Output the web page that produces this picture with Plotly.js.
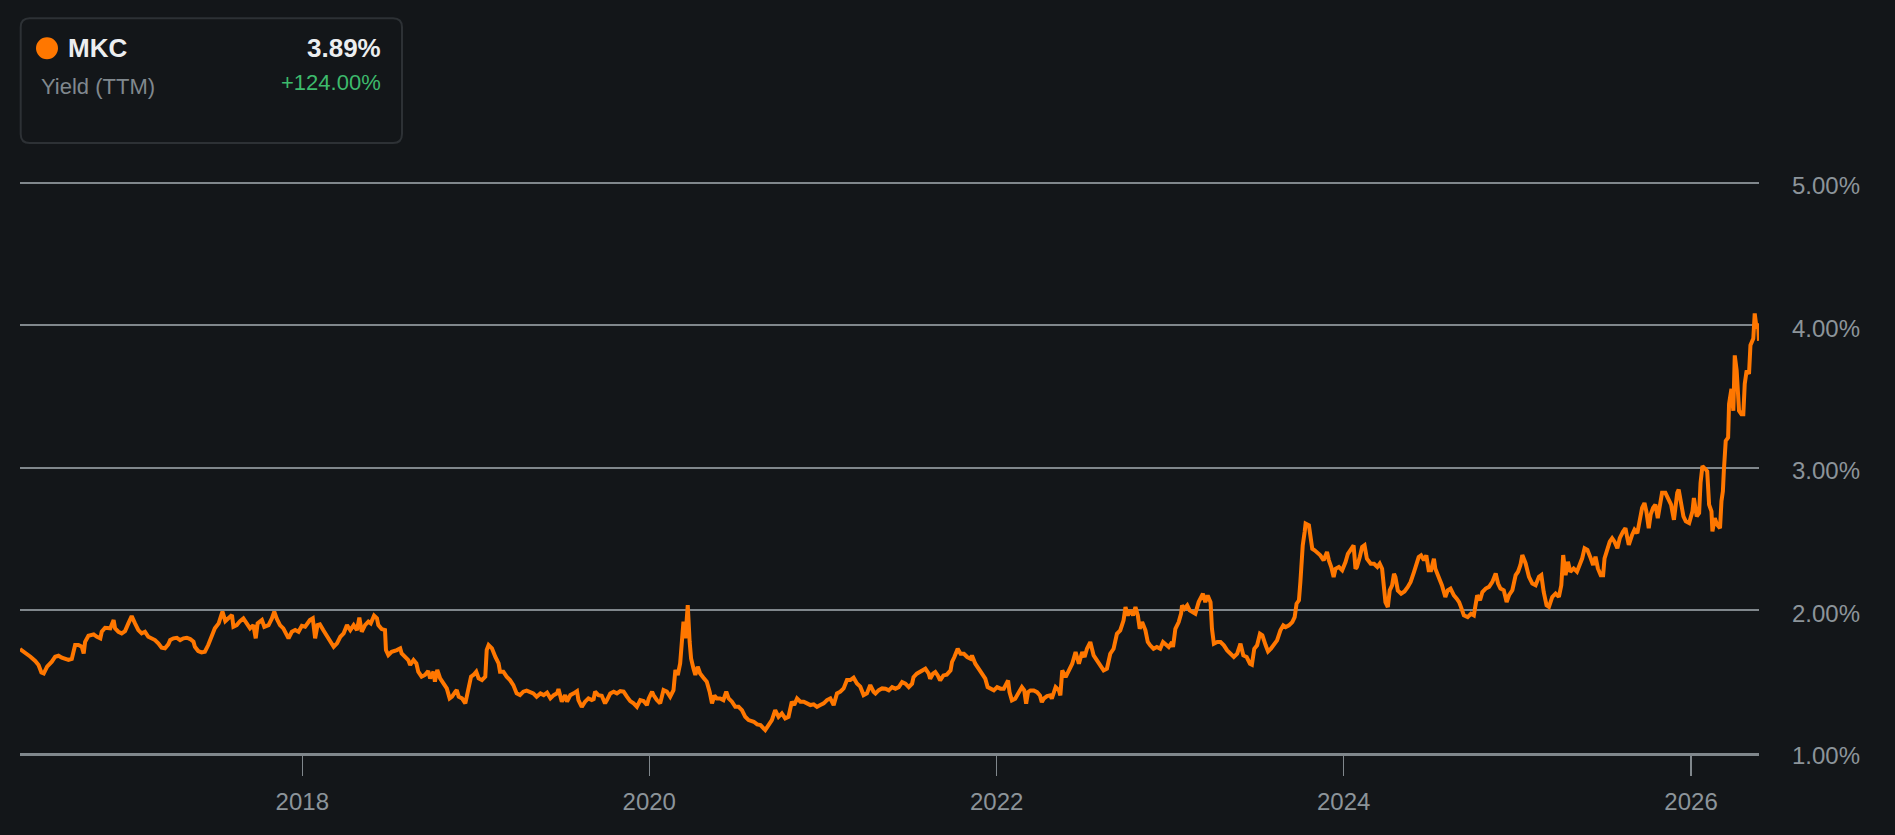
<!DOCTYPE html>
<html><head><meta charset="utf-8">
<script src="https://cdn.plot.ly/plotly-3.0.1.min.js"></script>
<style>html,body{margin:0;padding:0;background:#131619;}#chart{width:1895px;height:835px;}</style>
</head><body><div id="chart"></div>
<script>
const dates = [
'2016-05-17','2016-05-28','2016-06-08','2016-06-18','2016-06-25','2016-07-01','2016-07-06','2016-07-13','2016-07-23','2016-07-30',
'2016-08-06','2016-08-13','2016-08-20','2016-08-27','2016-09-03','2016-09-07','2016-09-10','2016-09-17','2016-09-24','2016-09-28',
'2016-10-01','2016-10-08','2016-10-19','2016-10-26','2016-11-02','2016-11-05','2016-11-12','2016-11-23','2016-11-30','2016-12-03',
'2016-12-10','2016-12-17','2016-12-24','2016-12-31',
'2017-01-07','2017-01-14','2017-01-21','2017-01-28','2017-02-04','2017-02-11','2017-02-18','2017-02-25','2017-03-04','2017-03-11',
'2017-03-18','2017-03-25','2017-03-29','2017-04-05','2017-04-12','2017-04-19','2017-04-26','2017-05-03','2017-05-10','2017-05-17',
'2017-05-20','2017-05-27','2017-06-03','2017-06-10','2017-06-17','2017-06-24','2017-07-01','2017-07-09','2017-07-16','2017-07-17',
'2017-07-23','2017-07-30','2017-08-06','2017-08-09','2017-08-16','2017-08-23','2017-08-30','2017-09-06','2017-09-13','2017-09-20',
'2017-09-25','2017-09-29','2017-10-08','2017-10-13','2017-10-22','2017-10-29','2017-11-03','2017-11-08','2017-11-15','2017-11-22',
'2017-11-29','2017-12-03','2017-12-10','2017-12-17','2017-12-24','2017-12-31',
'2018-01-07','2018-01-14','2018-01-17','2018-01-23','2018-01-28','2018-02-02','2018-02-07','2018-02-14','2018-02-21','2018-03-01',
'2018-03-08','2018-03-15','2018-03-22','2018-03-29','2018-04-05','2018-04-12','2018-04-19','2018-04-26','2018-05-01','2018-05-06',
'2018-05-13','2018-05-20','2018-05-25','2018-06-01','2018-06-07','2018-06-10','2018-06-17','2018-06-24','2018-06-26','2018-07-01',
'2018-07-08','2018-07-19','2018-07-26','2018-07-29','2018-08-05','2018-08-12','2018-08-16','2018-08-23','2018-08-29','2018-09-02',
'2018-09-09','2018-09-16','2018-09-23','2018-09-27','2018-10-04','2018-10-07','2018-10-12','2018-10-18','2018-10-25','2018-11-01',
'2018-11-07','2018-11-12','2018-11-19','2018-11-22','2018-11-26','2018-12-03','2018-12-10','2018-12-17','2018-12-22','2018-12-27',
'2019-01-02','2019-01-07','2019-01-14','2019-01-21','2019-01-24','2019-01-28','2019-02-04','2019-02-11','2019-02-18','2019-02-21',
'2019-02-28','2019-03-07','2019-03-14','2019-03-21','2019-03-28','2019-04-04','2019-04-11','2019-04-18','2019-04-25','2019-05-02',
'2019-05-09','2019-05-17','2019-05-24','2019-05-31','2019-06-07','2019-06-14','2019-06-21','2019-06-24','2019-07-01','2019-07-08',
'2019-07-12','2019-07-19','2019-07-26','2019-08-02','2019-08-05','2019-08-12','2019-08-19','2019-08-26','2019-09-02','2019-09-06',
'2019-09-09','2019-09-16','2019-09-23','2019-09-30','2019-10-04','2019-10-11','2019-10-18','2019-10-25','2019-11-01','2019-11-08',
'2019-11-15','2019-11-22','2019-11-29','2019-12-06','2019-12-13','2019-12-20','2019-12-27','2019-12-31',
'2020-01-07','2020-01-10','2020-01-17','2020-01-24','2020-01-31','2020-02-07','2020-02-14','2020-02-21','2020-02-25','2020-03-01',
'2020-03-06','2020-03-10','2020-03-13','2020-03-17','2020-03-19','2020-03-22','2020-03-26','2020-03-29','2020-04-03','2020-04-07',
'2020-04-12','2020-04-17','2020-04-24','2020-05-01','2020-05-07','2020-05-12','2020-05-17','2020-05-22','2020-05-29','2020-06-05',
'2020-06-11','2020-06-16','2020-06-23','2020-06-30','2020-07-07','2020-07-14','2020-07-21','2020-07-28','2020-08-08','2020-08-15',
'2020-08-22','2020-08-29','2020-09-01','2020-09-08','2020-09-15','2020-09-22','2020-09-29','2020-10-06','2020-10-13','2020-10-20',
'2020-10-27','2020-11-01','2020-11-07','2020-11-14','2020-11-21','2020-11-28','2020-12-05','2020-12-12','2020-12-19','2020-12-26',
'2021-01-02','2021-01-09','2021-01-16','2021-01-23','2021-01-30','2021-02-06','2021-02-13','2021-02-20','2021-02-27','2021-03-06',
'2021-03-13','2021-03-20','2021-03-27','2021-04-03','2021-04-10','2021-04-17','2021-04-21','2021-04-28','2021-05-05','2021-05-12',
'2021-05-19','2021-05-26','2021-06-02','2021-06-09','2021-06-16','2021-06-23','2021-06-30','2021-07-07','2021-07-10','2021-07-17',
'2021-07-24','2021-07-31','2021-08-04','2021-08-11','2021-08-14','2021-08-20','2021-08-25','2021-08-30','2021-09-04','2021-09-11',
'2021-09-18','2021-09-26','2021-09-29','2021-10-04','2021-10-11','2021-10-17','2021-10-24','2021-10-31','2021-11-07','2021-11-10',
'2021-11-17','2021-11-24','2021-12-01','2021-12-08','2021-12-13','2021-12-19','2021-12-26',
'2022-01-02','2022-01-09','2022-01-16','2022-01-21','2022-01-25','2022-01-28','2022-02-02','2022-02-09','2022-02-16','2022-02-23',
'2022-02-28','2022-03-04','2022-03-08','2022-03-13','2022-03-20','2022-03-27','2022-04-02','2022-04-06','2022-04-10','2022-04-17',
'2022-04-24','2022-04-27','2022-05-05','2022-05-12','2022-05-15','2022-05-19','2022-05-26','2022-06-02','2022-06-09','2022-06-16',
'2022-06-19','2022-06-23','2022-06-30','2022-07-05','2022-07-10','2022-07-17','2022-07-24','2022-07-31','2022-08-07','2022-08-14',
'2022-08-21','2022-08-28','2022-09-04','2022-09-08','2022-09-11','2022-09-18','2022-09-25','2022-09-29','2022-10-04','2022-10-09',
'2022-10-15','2022-10-20','2022-10-25','2022-10-29','2022-11-03','2022-11-10','2022-11-15','2022-11-20','2022-11-27','2022-12-04',
'2022-12-11','2022-12-17','2022-12-22','2022-12-29',
'2023-01-05','2023-01-07','2023-01-12','2023-01-19','2023-01-24','2023-01-26','2023-01-31','2023-02-06','2023-02-11','2023-02-16',
'2023-02-23','2023-03-02','2023-03-09','2023-03-11','2023-03-16','2023-03-21','2023-03-27','2023-03-30','2023-04-03','2023-04-10',
'2023-04-17','2023-04-24','2023-05-01','2023-05-08','2023-05-15','2023-05-22','2023-05-29','2023-06-04','2023-06-11','2023-06-18',
'2023-06-22','2023-06-27','2023-07-03','2023-07-09','2023-07-14','2023-07-21','2023-07-26','2023-08-01','2023-08-07','2023-08-14',
'2023-08-21','2023-08-27','2023-09-01','2023-09-08','2023-09-15','2023-09-20','2023-09-24','2023-09-29','2023-10-02','2023-10-07',
'2023-10-11','2023-10-13','2023-10-20','2023-10-23','2023-10-27','2023-11-01','2023-11-06','2023-11-13','2023-11-20','2023-11-27',
'2023-12-01','2023-12-06','2023-12-11','2023-12-15','2023-12-22','2023-12-29',
'2024-01-05','2024-01-10','2024-01-15','2024-01-22','2024-01-26','2024-01-29','2024-02-04','2024-02-09','2024-02-14','2024-02-19',
'2024-02-27','2024-03-05','2024-03-12','2024-03-17','2024-03-22','2024-03-26','2024-03-29','2024-04-03','2024-04-07','2024-04-12',
'2024-04-16','2024-04-19','2024-04-24','2024-05-01','2024-05-08','2024-05-15','2024-05-21','2024-05-28','2024-06-02','2024-06-07',
'2024-06-12','2024-06-18','2024-06-23','2024-06-28','2024-07-03','2024-07-09','2024-07-12','2024-07-19','2024-07-26','2024-08-02',
'2024-08-07','2024-08-13','2024-08-20','2024-08-26','2024-08-31','2024-09-04','2024-09-10','2024-09-18','2024-09-25','2024-10-01',
'2024-10-05','2024-10-08','2024-10-14','2024-10-19','2024-10-26','2024-11-02','2024-11-09','2024-11-16','2024-11-21','2024-11-26',
'2024-12-03','2024-12-09','2024-12-14','2024-12-21','2024-12-28',
'2025-01-02','2025-01-07','2025-01-11','2025-01-18','2025-01-25','2025-02-01','2025-02-08','2025-02-15','2025-02-20','2025-02-25',
'2025-03-03','2025-03-08','2025-03-15','2025-03-22','2025-03-29','2025-04-03','2025-04-07','2025-04-12','2025-04-17','2025-04-22',
'2025-04-29','2025-05-06','2025-05-12','2025-05-17','2025-05-22','2025-05-28','2025-06-04','2025-06-09','2025-06-14','2025-06-19',
'2025-06-25','2025-06-30','2025-07-03','2025-07-09','2025-07-14','2025-07-19','2025-07-24','2025-07-30','2025-08-04','2025-08-11',
'2025-08-16','2025-08-20','2025-08-23','2025-08-30','2025-09-04','2025-09-10','2025-09-15','2025-09-20','2025-09-25','2025-09-29',
'2025-10-04','2025-10-08','2025-10-13','2025-10-18','2025-10-23','2025-10-29','2025-11-01','2025-11-08','2025-11-15','2025-11-20',
'2025-11-26','2025-11-29','2025-12-03','2025-12-06','2025-12-11','2025-12-16','2025-12-21','2025-12-28',
'2026-01-04','2026-01-07','2026-01-13','2026-01-18','2026-01-21','2026-01-25','2026-02-01','2026-02-04','2026-02-08','2026-02-13',
'2026-02-15','2026-02-20','2026-02-25','2026-03-03','2026-03-06','2026-03-09','2026-03-11','2026-03-15','2026-03-20','2026-03-22',
'2026-03-27','2026-03-31','2026-04-03','2026-04-07','2026-04-12','2026-04-17','2026-04-21','2026-04-24','2026-04-28','2026-05-03',
'2026-05-06','2026-05-12','2026-05-15','2026-05-19','2026-05-22','2026-05-24'
];
const yieldPct = [
1.729,1.705,1.675,1.645,1.617,1.565,1.558,1.605,1.640,1.675,
1.682,1.668,1.659,1.652,1.659,1.734,1.757,1.757,1.745,1.698,
1.780,1.822,1.832,1.815,1.804,1.850,1.878,1.874,1.932,1.874,
1.850,1.839,1.855,1.909,
1.960,1.909,1.862,1.839,1.850,1.815,1.804,1.792,1.769,1.738,
1.734,1.762,1.792,1.804,1.808,1.792,1.804,1.808,1.799,1.780,
1.745,1.715,1.705,1.710,1.757,1.815,1.874,1.909,1.967,1.991,
1.925,1.949,1.967,1.885,1.897,1.925,1.944,1.909,1.874,1.897,
1.804,1.909,1.932,1.885,1.897,1.944,1.991,1.944,1.897,1.874,
1.827,1.804,1.850,1.862,1.850,1.892,
1.885,1.921,1.932,1.944,1.804,1.897,1.902,1.862,1.827,1.780,
1.745,1.769,1.815,1.839,1.897,1.862,1.897,1.862,1.949,1.850,
1.897,1.921,1.909,1.963,1.944,1.897,1.869,1.862,1.722,1.687,
1.710,1.722,1.734,1.698,1.675,1.652,1.617,1.652,1.628,1.570,
1.535,1.547,1.575,1.523,1.570,1.500,1.582,1.523,1.488,1.453,
1.383,1.395,1.430,1.441,1.395,1.383,1.348,1.453,1.535,1.547,
1.570,1.523,1.511,1.535,1.722,1.757,1.734,1.675,1.628,1.570,
1.570,1.535,1.511,1.476,1.418,1.406,1.430,1.437,1.430,1.418,
1.395,1.418,1.406,1.423,1.383,1.406,1.418,1.448,1.360,1.406,
1.360,1.406,1.418,1.434,1.371,1.324,1.360,1.383,1.371,1.378,
1.430,1.406,1.402,1.348,1.371,1.418,1.430,1.418,1.434,1.430,
1.395,1.364,1.348,1.324,1.371,1.364,1.336,1.383,
1.430,1.406,1.371,1.348,1.441,1.430,1.395,1.441,1.582,1.547,
1.628,1.804,1.921,1.804,1.874,2.037,1.780,1.663,1.593,1.547,
1.605,1.558,1.528,1.500,1.430,1.348,1.402,1.383,1.383,1.371,
1.430,1.383,1.360,1.324,1.324,1.301,1.254,1.231,1.219,1.201,
1.196,1.177,1.161,1.196,1.231,1.301,1.254,1.278,1.243,1.254,
1.360,1.336,1.383,1.360,1.360,1.348,1.336,1.341,1.324,1.336,
1.348,1.371,1.383,1.336,1.418,1.430,1.453,1.511,1.511,1.528,
1.488,1.465,1.406,1.418,1.476,1.430,1.418,1.441,1.453,1.451,
1.439,1.462,1.451,1.462,1.497,1.486,1.462,1.486,1.532,1.556,
1.568,1.579,1.591,1.556,1.521,1.556,1.568,1.544,1.509,1.544,
1.549,1.579,1.638,1.673,1.731,1.696,1.696,1.673,1.661,1.684,
1.626,1.591,1.556,1.521,1.462,1.451,1.439,
1.462,1.451,1.451,1.486,1.509,1.427,1.369,1.381,1.416,1.462,
1.439,1.345,1.427,1.439,1.439,1.427,1.404,1.357,1.381,1.399,
1.404,1.381,1.462,1.439,1.404,1.579,1.532,1.579,1.626,1.708,
1.661,1.626,1.708,1.673,1.731,1.778,1.684,1.649,1.626,1.579,
1.591,1.696,1.731,1.790,1.836,1.860,1.930,2.023,1.965,2.000,
1.965,2.023,1.965,1.871,1.918,1.860,1.778,1.755,1.731,1.743,
1.731,1.778,1.766,1.743,
1.778,1.743,1.871,1.918,1.977,2.035,2.012,2.035,2.000,1.988,
1.977,2.058,2.094,2.117,2.058,2.105,2.058,1.871,1.766,1.778,
1.778,1.755,1.719,1.696,1.673,1.696,1.766,1.684,1.673,1.626,
1.619,1.731,1.755,1.836,1.825,1.755,1.712,1.731,1.755,1.790,
1.860,1.895,1.883,1.895,1.918,1.953,2.047,2.070,2.199,2.456,
2.549,2.608,2.596,2.538,2.432,2.421,2.409,2.386,2.351,2.409,
2.351,2.304,2.234,2.292,2.304,2.281,
2.339,2.397,2.421,2.456,2.292,2.304,2.374,2.444,2.456,2.362,
2.327,2.327,2.304,2.327,2.292,2.164,2.058,2.023,2.140,2.175,
2.257,2.234,2.140,2.117,2.133,2.164,2.199,2.269,2.327,2.374,
2.386,2.351,2.386,2.281,2.281,2.362,2.292,2.234,2.175,2.094,
2.140,2.152,2.105,2.082,2.058,2.023,1.965,1.953,1.976,1.965,
2.047,2.106,2.071,2.129,2.153,2.165,2.200,2.259,2.188,2.153,
2.141,2.059,2.106,2.141,2.247,
2.271,2.318,2.388,2.329,2.235,2.188,2.176,2.235,2.247,2.129,
2.035,2.024,2.094,2.118,2.094,2.176,2.388,2.247,2.341,2.271,
2.294,2.271,2.318,2.365,2.435,2.424,2.365,2.318,2.376,2.294,
2.247,2.247,2.365,2.435,2.482,2.506,2.482,2.435,2.506,2.553,
2.576,2.506,2.459,2.529,2.565,2.541,2.624,2.718,2.753,2.694,
2.576,2.671,2.718,2.741,2.647,2.788,2.824,2.824,2.765,2.741,
2.635,2.718,2.824,2.847,2.765,2.659,2.624,2.612,
2.694,2.788,2.659,2.682,2.894,3.012,2.988,2.976,2.741,2.694,
2.553,2.647,2.600,2.576,2.765,2.835,2.976,3.188,3.212,3.447,
3.553,3.400,3.788,3.682,3.400,3.376,3.376,3.588,3.682,3.659,
3.859,3.906,4.082,3.976,4.012,3.890
];
const xTickVals = ['2018-01-01','2020-01-01','2022-01-01','2024-01-01','2026-01-01'];
const xTickText = ['2018','2020','2022','2024','2026'];
const yTickVals = [1,2,3,4,5];
const yTickText = ['1.00%','2.00%','3.00%','4.00%','5.00%'];
const seriesName = 'MKC';
const seriesSubtitle = 'Yield (TTM)';
const lastValueLabel = '3.89%';
const changeLabel = '+124.00%';

const W = 1895, H = 835;
const M = {l: 20, r: 136, t: 154, b: 82};
const PW = W - M.l - M.r, PH = H - M.t - M.b;
const px = X => (X - M.l) / PW;
const py = Y => (H - M.b - Y) / PH;

const BG = '#131619';
const GRID = '#80878c';
const TXT = '#8c949a';
const ORANGE = '#ff7700';
const FONT = 'Liberation Sans, Arial, Helvetica, sans-serif';

function roundRect(x0, y0, x1, y1, r) {
  const P = (X, Y) => px(X).toFixed(6) + ',' + py(Y).toFixed(6);
  return 'M' + P(x0 + r, y0) + ' L' + P(x1 - r, y0) + ' Q' + P(x1, y0) + ' ' + P(x1, y0 + r) +
    ' L' + P(x1, y1 - r) + ' Q' + P(x1, y1) + ' ' + P(x1 - r, y1) +
    ' L' + P(x0 + r, y1) + ' Q' + P(x0, y1) + ' ' + P(x0, y1 - r) +
    ' L' + P(x0, y0 + r) + ' Q' + P(x0, y0) + ' ' + P(x0 + r, y0) + ' Z';
}

const trace = {
  type: 'scatter', mode: 'lines', x: dates, y: yieldPct, name: seriesName,
  line: {color: ORANGE, width: 4, shape: 'linear'}, hoverinfo: 'skip'
};

const layout = {
  width: W, height: H,
  margin: M,
  paper_bgcolor: BG, plot_bgcolor: BG,
  showlegend: false,
  font: {family: FONT, color: TXT},
  xaxis: {
    type: 'date', range: [dates[0], dates[dates.length - 1]],
    tickmode: 'array', tickvals: xTickVals, ticktext: xTickText,
    ticks: 'outside', ticklen: 20, tickwidth: 1.5, tickcolor: GRID,
    showline: true, linecolor: GRID, linewidth: 3,
    showgrid: false, zeroline: false,
    tickfont: {size: 24, color: TXT, family: FONT}, ticklabelstandoff: 5,
    fixedrange: true
  },
  yaxis: {
    side: 'right', range: [1, 5.2],
    tickmode: 'array', tickvals: yTickVals, ticktext: yTickText,
    showgrid: true, gridcolor: GRID, gridwidth: 2,
    zeroline: false, showline: false, ticks: '',
    tickfont: {size: 24, color: TXT, family: FONT}, ticklabelstandoff: 32, ticklabelshift: 3,
    fixedrange: true
  },
  shapes: [
    {type: 'path', xref: 'paper', yref: 'paper', path: roundRect(20.7, 18.3, 402, 143, 9),
     line: {color: '#2d3135', width: 2}, fillcolor: 'rgba(0,0,0,0)', layer: 'above'},
    {type: 'circle', xref: 'paper', yref: 'paper', x0: px(36), x1: px(58), y0: py(37.3), y1: py(59.3),
     line: {width: 0}, fillcolor: ORANGE, layer: 'above'}
  ],
  annotations: [
    {xref: 'paper', yref: 'paper', x: px(66), y: py(47.5), xanchor: 'left', yanchor: 'middle', showarrow: false,
     text: '<b>' + seriesName + '</b>', font: {size: 26, color: '#eceef0', family: FONT}},
    {xref: 'paper', yref: 'paper', x: px(383), y: py(47.5), xanchor: 'right', yanchor: 'middle', showarrow: false,
     text: '<b>' + lastValueLabel + '</b>', font: {size: 26, color: '#eceef0', family: FONT}},
    {xref: 'paper', yref: 'paper', x: px(39), y: py(86.5), xanchor: 'left', yanchor: 'middle', showarrow: false,
     text: seriesSubtitle, font: {size: 22, color: '#80888e', family: FONT}},
    {xref: 'paper', yref: 'paper', x: px(383), y: py(82), xanchor: 'right', yanchor: 'middle', showarrow: false,
     text: changeLabel, font: {size: 22, color: '#3dba6c', family: FONT}}
  ]
};

Plotly.newPlot('chart', [trace], layout, {displayModeBar: false, staticPlot: true});
</script>
</body></html>
